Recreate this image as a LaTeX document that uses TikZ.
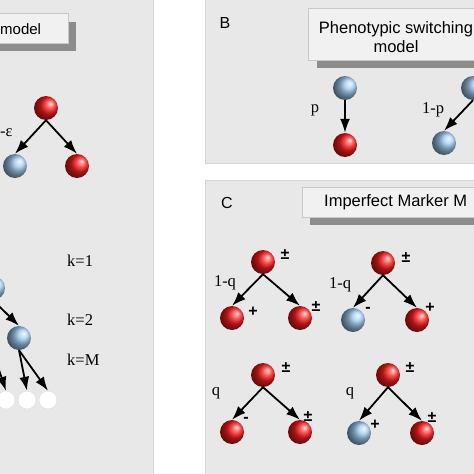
\documentclass[tikz,border=0pt]{standalone}
\usepackage{fontspec}
\setmainfont{Liberation Serif}
\setsansfont{Liberation Sans}
\usetikzlibrary{arrows.meta}

\definecolor{panelgray}{RGB}{232,232,232}
\definecolor{panelline}{RGB}{214,214,214}
\definecolor{titlefill}{RGB}{241,241,241}
\definecolor{titleline}{RGB}{200,200,200}
\definecolor{shadowgray}{RGB}{140,140,140}
\definecolor{ballred}{RGB}{250,28,28}
\definecolor{ballblue}{RGB}{160,202,240}

\begin{document}
\begin{tikzpicture}[x=1pt, y=-1pt,
    panel/.style={fill=panelgray, draw=panelline, line width=0.8pt},
    titlebox/.style={fill=titlefill, draw=titleline, line width=0.8pt},
    shadowbar/.style={fill=shadowgray, draw=none},
    redball/.style={circle, minimum size=24pt, inner sep=0pt, shading=ball, ball color=ballred, shading angle=-90},
    blueball/.style={circle, minimum size=24pt, inner sep=0pt, shading=ball, ball color=ballblue, shading angle=-90},
    leaf/.style={circle, minimum size=18pt, inner sep=0pt, fill=white, draw=gray!25},
    arr/.style={-{Latex[length=14pt,width=10pt]}, line width=1.8pt},
    lab/.style={font=\fontsize{16.5}{18}\selectfont, inner sep=0pt},
    sgn/.style={font=\sffamily\bfseries\fontsize{16}{18}\selectfont, inner sep=0pt},
    title/.style={font=\sffamily\fontsize{16.5}{19}\selectfont, align=center, inner sep=0pt},
    letter/.style={font=\sffamily\fontsize{16}{18}\selectfont, inner sep=0pt}]

    \useasboundingbox (0,0) rectangle (474,474);
    \clip (0,0) rectangle (474,474);

    % Panels
    \draw[panel] (-10,-10) rectangle (153,484);
    \draw[panel] (205,-10) rectangle (490,163);
    \draw[panel] (205,180) rectangle (490,484);

    % Title boxes
    \fill[shadowbar] (-10,22) rectangle (76,51);
    \draw[titlebox] (-10,13) rectangle (68,43);
    \node[title, font=\sffamily\fontsize{15}{18}\selectfont, anchor=west] (titleA) at (0,29) {model};

    \fill[shadowbar] (317,18) rectangle (490,68);
    \draw[titlebox] (308,8) rectangle (490,60);
    \node[title] (titleB) at (396,37) {Phenotypic switching\\model};

    \fill[shadowbar] (310,196) rectangle (490,225);
    \draw[titlebox] (302,187) rectangle (490,217);
    \node[title, anchor=west] (titleC) at (324,202) {Imperfect Marker M};

    \node[letter] (letB) at (225,23) {B};
    \node[letter] (letC) at (227,203) {C};

    % Panel A: division
    \node[redball] (a0) at (46,108) {};
    \node[blueball] (a1) at (15,166) {};
    \node[redball] (a2) at (77,166) {};
    \node[lab, anchor=west] (epsA) at (0,133) {-ε};
    \draw[arr] (a0.south) -- (a1.north);
    \draw[arr] (a0.south) -- (a2.north);

    % Panel A: generations
    \node[blueball] (b0) at (-7,288) {};
    \node[blueball] (b1) at (19,338) {};
    \coordinate (b2) at (-6,355);
    \node[leaf] (w1) at (6,400) {};
    \node[leaf] (w2) at (27,400) {};
    \node[leaf] (w3) at (48,400) {};
    \draw[arr] (b0.south) -- (b1.north);
    \draw[arr] (b2) -- (w1.north);
    \draw[arr] (b1.south) -- (w2.north);
    \draw[arr] (b1.south) -- (w3.north);
    \node[lab, anchor=west] (k1) at (67,261) {k=1};
    \node[lab, anchor=west] (k2) at (67,320) {k=2};
    \node[lab, anchor=west] (kM) at (67,360) {k=M};

    % Panel B
    \node[blueball] (p0) at (345,88) {};
    \node[redball] (p1) at (345,145) {};
    \node[blueball] (p2) at (473,88) {};
    \node[blueball] (p3) at (444,143) {};
    \draw[arr] (p0.south) -- (p1.north);
    \draw[arr] (p2.south) -- (p3.north);
    \node[lab] (lp) at (315,110) {p};
    \node[lab] (lnp) at (433,110) {1-p};

    % Panel C: 1-q, no marker change
    \node[redball] (c1) at (263,262) {};
    \node[redball] (c1l) at (232,318) {};
    \node[redball] (c1r) at (300,318) {};
    \draw[arr] (c1.south) -- (c1l.north);
    \draw[arr] (c1.south) -- (c1r.north);
    \node[lab] (q1) at (225,283) {1-q};
    \node[sgn] (s1) at (285,255) {±};
    \node[sgn] (s1l) at (253,312) {+};
    \node[sgn] (s1r) at (316,307) {±};

    \node[redball] (c2) at (383,263) {};
    \node[blueball] (c2l) at (353,320) {};
    \node[redball] (c2r) at (417,320) {};
    \draw[arr] (c2.south) -- (c2l.north);
    \draw[arr] (c2.south) -- (c2r.north);
    \node[lab] (q2) at (340,285) {1-q};
    \node[sgn] (s2) at (406,258) {±};
    \node[sgn] (s2l) at (368,310) {-};
    \node[sgn] (s2r) at (430,308) {+};

    % Panel C: q, marker change
    \node[redball] (c3) at (263,375) {};
    \node[redball] (c3l) at (232,432) {};
    \node[redball] (c3r) at (300,432) {};
    \draw[arr] (c3.south) -- (c3l.north);
    \draw[arr] (c3.south) -- (c3r.north);
    \node[lab] (q3) at (216,393) {q};
    \node[sgn] (s3) at (286,368) {±};
    \node[sgn] (s3l) at (246,420) {-};
    \node[sgn] (s3r) at (308,417) {±};

    \node[redball] (c4) at (388,375) {};
    \node[blueball] (c4l) at (359,433) {};
    \node[redball] (c4r) at (422,433) {};
    \draw[arr] (c4.south) -- (c4l.north);
    \draw[arr] (c4.south) -- (c4r.north);
    \node[lab] (q4) at (350,393) {q};
    \node[sgn] (s4) at (410,368) {±};
    \node[sgn] (s4l) at (375,425) {+};
    \node[sgn] (s4r) at (432,418) {±};

\end{tikzpicture}
\end{document}
